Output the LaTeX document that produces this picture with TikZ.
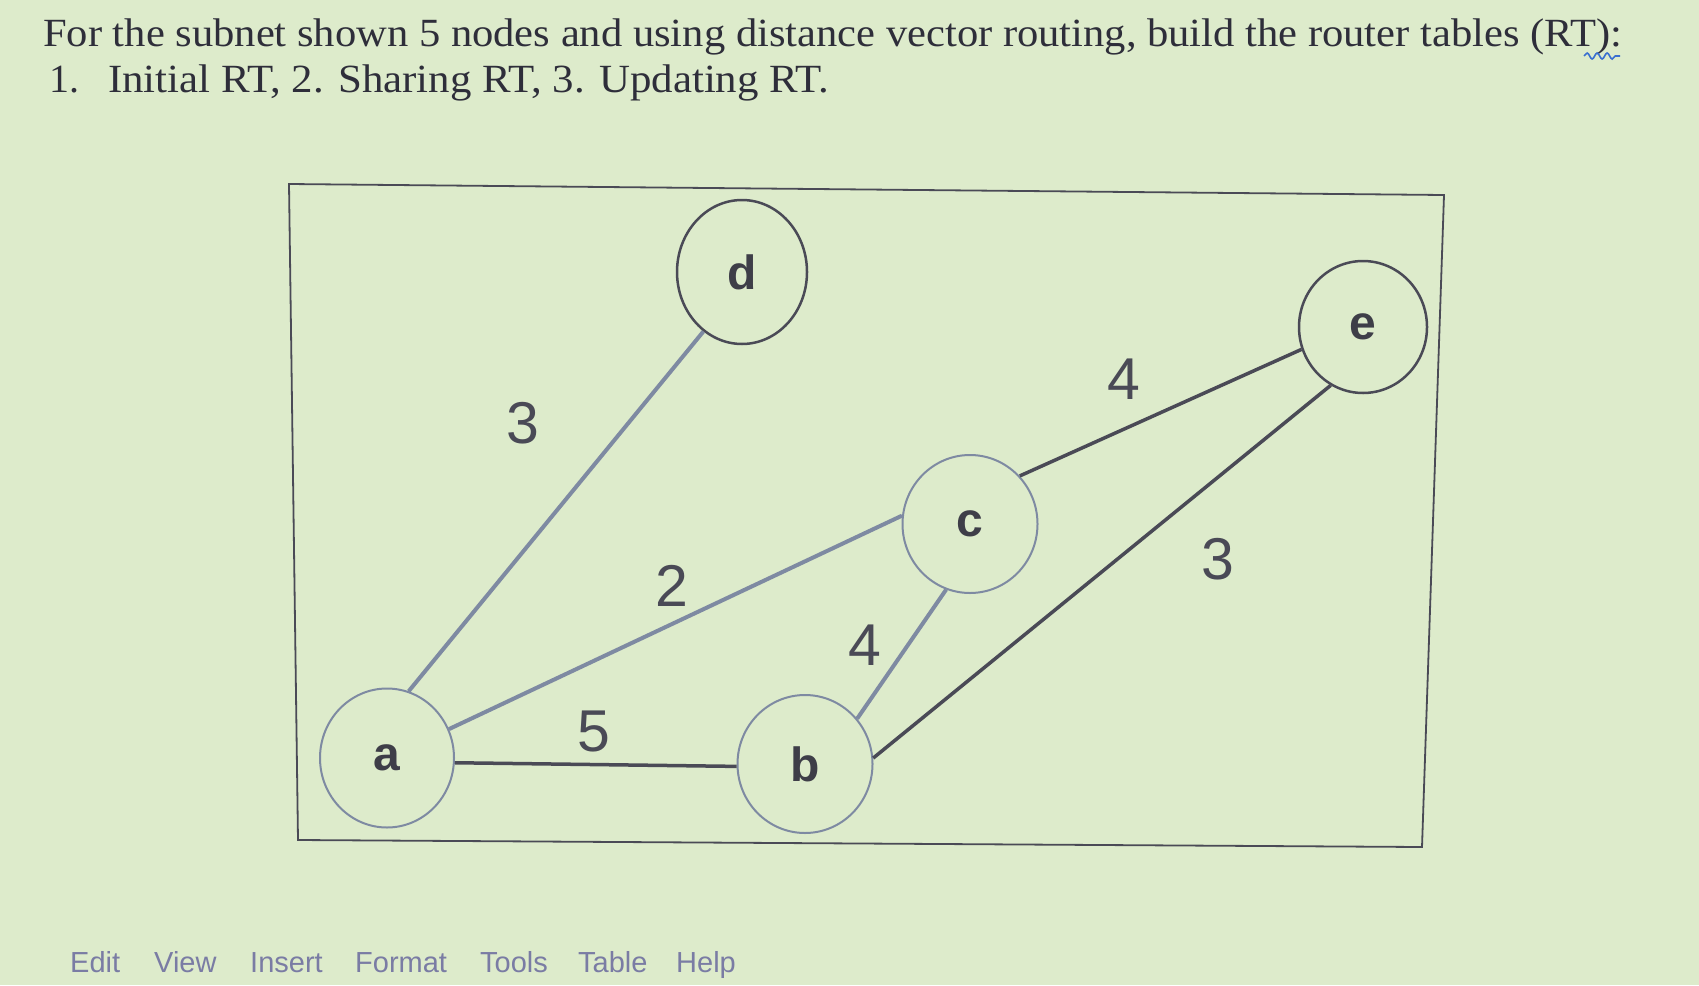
\documentclass[tikz,border=0pt]{standalone}
\usepackage{fontspec}
\setmainfont{Liberation Serif}
\newfontfamily\arialf{Liberation Sans}
\usetikzlibrary{shapes.geometric,decorations.pathmorphing}
\definecolor{bgc}{HTML}{DDEBCB}
\definecolor{titlec}{HTML}{2E2E3A}
\definecolor{darkc}{HTML}{4A4A56}
\definecolor{lightc}{HTML}{7E8AA2}
\definecolor{letterc}{HTML}{3E3E48}
\definecolor{menuc}{HTML}{7A7CA4}
\definecolor{squigc}{HTML}{3A6FD0}
\begin{document}
\begin{tikzpicture}[x=1pt,y=-1pt,
  vtx/.style={ellipse,draw=darkc,line width=2.5pt,inner sep=0pt,
    font=\arialf\bfseries\fontsize{48}{48}\selectfont,text=letterc},
  vtxl/.style={vtx,draw=lightc,line width=2pt},
  edged/.style={line width=3.5pt,draw=darkc},
  edgel/.style={line width=4pt,draw=lightc},
  lbl/.style={font=\arialf\fontsize{59}{59}\selectfont,text=darkc,inner sep=0pt},
  menu/.style={font=\arialf\fontsize{29}{29}\selectfont,text=menuc,anchor=base west,inner sep=0pt},
  ttl/.style={anchor=base west,inner sep=0pt,font=\fontsize{40}{46}\selectfont,text=titlec}]
\fill[bgc] (0,0) rectangle (1699,985);
\useasboundingbox (0,0) rectangle (1699,985);

% title
\node[ttl] (t1) at (43,46) {\resizebox{1579pt}{\height}{For the subnet shown 5 nodes and using distance vector routing, build the router tables (RT):}};
\node[ttl] (n1) at (49,92) {1.};
\node[ttl] (t2) at (108,92) {\resizebox{721pt}{\height}{Initial RT, 2. Sharing RT, 3. Updating RT.}};
\coordinate (sq1) at (1584,56);
\coordinate (sq2) at (1620,56);
\draw[squigc,line width=1.6pt,decorate,decoration={snake,amplitude=3pt,segment length=10pt}] (sq1) -- (sq2);

% frame
\draw[darkc,line width=1.8pt] (289,184) -- (1444,195) -- (1422,847) -- (298,840) -- cycle;

% nodes
\node[vtx,minimum width=130pt,minimum height=144pt] (d) at (742,272) {d};
\node[vtx,minimum width=128pt,minimum height=132pt] (e) at (1363,327) {e};
\node[vtxl,minimum width=135pt,minimum height=138pt] (c) at (970,524) {c};
\node[vtxl,minimum width=134pt,minimum height=139pt] (a) at (387,758) {a};
\node[vtxl,minimum width=135pt,minimum height=138pt] (b) at (805,764) {b};

% edges
\draw[edgel] (a.72) -- (d.237);
\draw[edgel] (a.25) -- (c.173);
\draw[edged] (a.-4) -- (b.182);
\draw[edgel] (b.41) -- (c.250);
\draw[edged] (b.5) -- (e.241);
\draw[edged] (c.44) -- (e.200);

% labels
\node[lbl] (l1) at (523,423) {3};
\node[lbl] (l2) at (672,586) {2};
\node[lbl] (l3) at (865,645) {4};
\node[lbl] (l4) at (594,731) {5};
\node[lbl] (l5) at (1124,379) {4};
\node[lbl] (l6) at (1218,559) {3};

% menu bar
\node[menu] (m1) at (70,972) {Edit};
\node[menu] (m2) at (154,972) {View};
\node[menu] (m3) at (250,972) {Insert};
\node[menu] (m4) at (355,972) {Format};
\node[menu] (m5) at (480,972) {Tools};
\node[menu] (m6) at (578,972) {Table};
\node[menu] (m7) at (676,972) {Help};
\end{tikzpicture}
\end{document}
